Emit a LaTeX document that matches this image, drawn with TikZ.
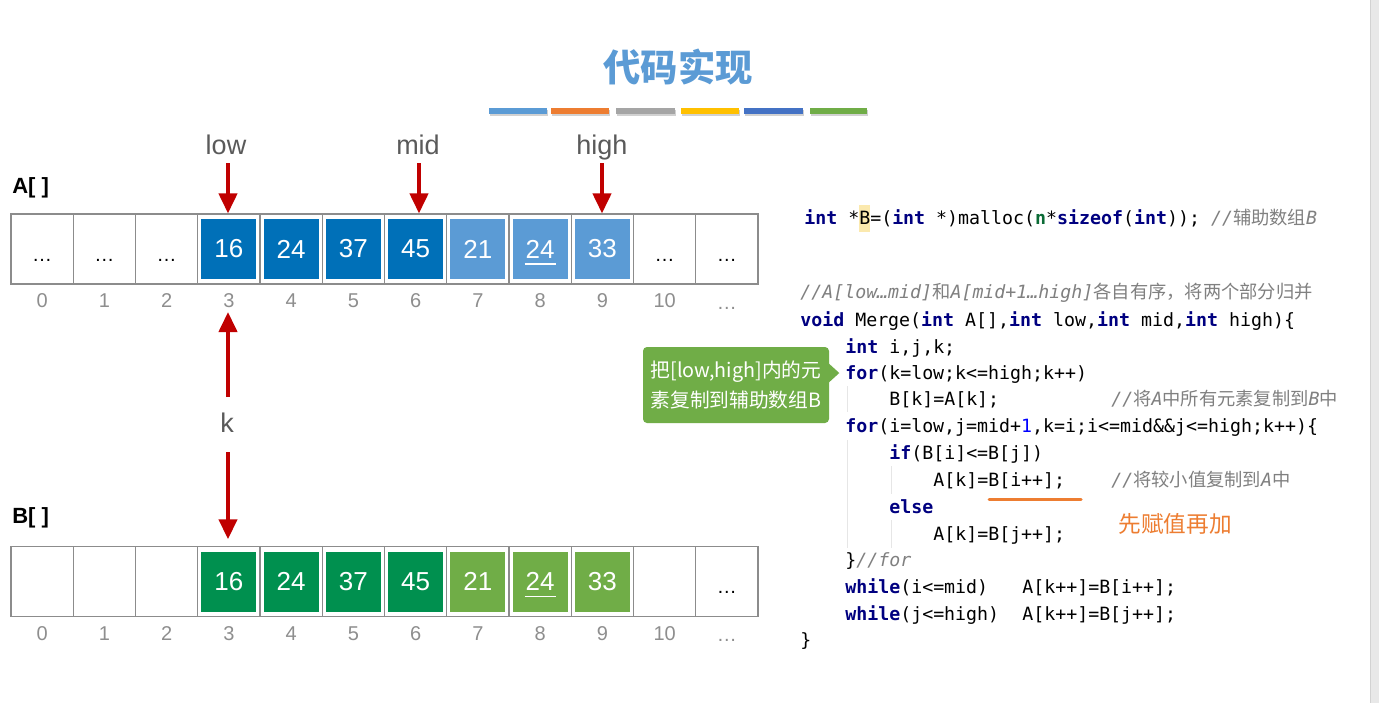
\documentclass[tikz,border=0pt]{standalone}
\usepackage{fontspec}
\setmainfont{Liberation Sans}
\newfontfamily\cjk{Noto Sans CJK SC}
\newfontfamily\codefont{DejaVu Sans Mono}
\usetikzlibrary{arrows.meta}
\definecolor{dblue}{HTML}{0070B8}
\definecolor{lblue}{HTML}{5B9BD5}
\definecolor{dgreen}{HTML}{00904F}
\definecolor{lgreen}{HTML}{70AD47}
\definecolor{arred}{HTML}{C00000}
\definecolor{cellgray}{HTML}{8C8C8C}
\definecolor{idxgray}{HTML}{8E8E8E}
\definecolor{lblgray}{HTML}{5A5A5A}
\definecolor{kwblue}{HTML}{000080}
\definecolor{cmgray}{HTML}{808080}
\definecolor{numblue}{HTML}{0000FF}
\definecolor{ngreen}{HTML}{0B6B36}
\definecolor{hlyellow}{HTML}{FBE9AE}
\definecolor{oranget}{HTML}{ED7D31}
\definecolor{bgray}{HTML}{A5A5A5}
\definecolor{byellow}{HTML}{FFC000}
\definecolor{bblue}{HTML}{4472C4}
\definecolor{guide}{HTML}{E6E6E6}
\newcommand\kw[1]{\textcolor{kwblue}{\bfseries #1}}
\newcommand\cmt[1]{\textcolor{cmgray}{\itshape #1}}
\newcommand\cj[1]{{\cjk\upshape\mdseries #1}}
\begin{document}
\begin{tikzpicture}[x=0.75pt,y=-0.75pt,
  cellbox/.style={draw=cellgray,line width=0.8pt,minimum width=46.69pt,minimum height=52.5pt,inner sep=0pt},
  innerbox/.style={minimum width=41.25pt,minimum height=45pt,inner sep=0pt,text=white,font=\fontsize{19.5pt}{23pt}\selectfont},
  dots/.style={anchor=base,inner sep=0pt,font=\fontsize{15pt}{18pt}\selectfont},
  idx/.style={anchor=base,inner sep=0pt,text=idxgray,font=\fontsize{15pt}{18pt}\selectfont},
  lbl/.style={anchor=base,text=lblgray,inner sep=0pt,font=\fontsize{20.25pt}{24pt}\selectfont},
  arrlbl/.style={anchor=west,inner sep=0pt,font=\bfseries\fontsize{16.5pt}{20pt}\selectfont},
  redarr/.style={draw=arred,line width=3pt,-{Triangle[width=13.5pt,length=15pt]}},
  code/.style={anchor=base west,inner sep=0pt,font=\codefont\fontsize{13.7pt}{16pt}\selectfont},
  guideline/.style={draw=guide,line width=0.75pt}]
\useasboundingbox (0,0) rectangle (1379,703);
\fill[white] (0,0) rectangle (1379,703);
% right band
\fill[gray!18] (1370,0) rectangle (1379,703);
\draw[gray!35,line width=0.6pt] (1370,0) -- (1370,703);

% title and bars
\node[text=lblue,inner sep=0pt,font=\cjk\bfseries\fontsize{28pt}{32pt}\selectfont] (title) at (678,67) {代码实现};
\foreach \xa/\xb/\c in {489/547/lblue,551/609/oranget,616/675/bgray,681/739/byellow,744/803/bblue,810/867/lgreen}{
  \fill[black,opacity=0.18] (\xa+1,109.5) rectangle (\xb+1,116);
  \fill[\c] (\xa,108) rectangle (\xb,114);
}

% array labels
\node[arrlbl] (alabel) at (12,188) {A[ ]};
\node[arrlbl] (blabel) at (12,518) {B[ ]};

% cells
\foreach \i in {0,...,11}{
  \pgfmathsetmacro\cx{11+62.25*(\i+0.5)}
  \node[cellbox] (a\i) at (\cx,249) {};
  \node[cellbox] (b\i) at (\cx,581.5) {};
}
\foreach \i/\v/\c in {3/16/dblue,4/24/dblue,5/37/dblue,6/45/dblue,7/21/lblue,8/24/lblue,9/33/lblue}{
  \node[innerbox,fill=\c] (ain\i) at (a\i) {\v};
}
\foreach \i/\v/\c in {3/16/dgreen,4/24/dgreen,5/37/dgreen,6/45/dgreen,7/21/lgreen,8/24/lgreen,9/33/lgreen}{
  \node[innerbox,fill=\c] (bin\i) at (b\i) {\v};
}
\draw[white,line width=1.1pt] ([shift={(-15.5,15)}]ain8.center) -- ([shift={(15.5,15)}]ain8.center);
\draw[white,line width=1.1pt] ([shift={(-15.5,15)}]bin8.center) -- ([shift={(15.5,15)}]bin8.center);
\foreach \i in {0,1,2,10,11}{
  \node[dots] (adot\i) at (a\i.center |- 0,261) {…};
}
\node[dots] (bdot11) at (b11.center |- 0,593) {…};

% indices
\foreach \i in {0,...,10}{
  \node[idx] (ai\i) at (a\i.center |- 0,307.5) {\i};
  \node[idx] (bi\i) at (b\i.center |- 0,640) {\i};
}
\node[idx] (ai11) at (a11.center |- 0,309) {…};
\node[idx] (bi11) at (b11.center |- 0,641.5) {…};

% pointer labels and arrows
\node[lbl] (low) at (226,154) {low};
\node[lbl] (mid) at (418,154) {mid};
\node[lbl] (high) at (602,154) {high};
\node[lbl] (k) at (227,432) {k};
\coordinate (lowtop) at (228,163);
\coordinate (midtop) at (419,163);
\coordinate (hightop) at (602,163);
\draw[redarr] (lowtop) -- (lowtop |- a3.north);
\draw[redarr] (midtop) -- (midtop |- a6.north);
\draw[redarr] (hightop) -- (hightop |- a9.north);
\coordinate (kup) at (228,397);
\coordinate (kdown) at (228,452);
\draw[redarr] (kup) -- (228,312);
\draw[redarr] (kdown) -- ([yshift=5]kdown |- b3.north);

% callout
\node[fill=lgreen,rounded corners=3pt,minimum width=139.5pt,minimum height=57pt,inner sep=0pt,
  text=white,align=center,font=\cjk\fontsize{14.8pt}{22.5pt}\selectfont] (callout) at (736,385)
  {把[low,high]内的元\\素复制到辅助数组B};
\fill[lgreen] ([shift={(-1,-22)}]callout.east) -- ([shift={(10,-12)}]callout.east) -- ([shift={(-1,-2)}]callout.east) -- cycle;

% code
\fill[hlyellow] (859,205) rectangle (870,232);
\draw[guideline] (847,386) -- (847,412);
\draw[guideline] (847,440) -- (847,548);
\draw[guideline] (891,466) -- (891,494);
\draw[guideline] (891,520) -- (891,548);
\node[code] (c1) at (804,224) {\kw{int} *B=(\kw{int} *)malloc(\textcolor{ngreen}{\bfseries n}*\kw{sizeof}(\kw{int})); \cmt{//\cj{辅助数组}B}};
\node[code] (c2) at (800,298) {\cmt{//A[low…mid]\cj{和}A[mid+1…high]\cj{各自有序，将两个部分归并}}};
\node[code] (c3) at (800,326) {\kw{void} Merge(\kw{int} A[],\kw{int} low,\kw{int} mid,\kw{int} high)\{};
\node[code] (c4) at (845,353) {\kw{int} i,j,k;};
\node[code] (c5) at (845,379) {\kw{for}(k=low;k<=high;k++)};
\node[code] (c6) at (889,405) {B[k]=A[k];};
\node[code] (c6c) at (1111,405) {\cmt{//\cj{将}A\cj{中所有元素复制到}B\cj{中}}};
\node[code] (c7) at (845,432) {\kw{for}(i=low,j=mid+\textcolor{numblue}{1},k=i;i<=mid\&\&j<=high;k++)\{};
\node[code] (c8) at (889,459) {\kw{if}(B[i]<=B[j])};
\node[code] (c9) at (933,486) {A[k]=B[i++];};
\node[code] (c9c) at (1111,486) {\cmt{//\cj{将较小值复制到}A\cj{中}}};
\node[code] (c10) at (889,513) {\kw{else}};
\node[code] (c11) at (933,540) {A[k]=B[j++];};
\node[code] (c12) at (845,566) {\}\cmt{//for}};
\node[code] (c13) at (845,593) {\kw{while}(i<=mid)};
\node[code] (c13b) at (1022,593) {A[k++]=B[i++];};
\node[code] (c14) at (845,620) {\kw{while}(j<=high)};
\node[code] (c14b) at (1022,620) {A[k++]=B[j++];};
\node[code] (c15) at (800,646) {\}};

% annotation
\draw[oranget,line width=2.25pt,line cap=round] (989,499) -- (1081,499);
\node[text=oranget,inner sep=0pt,font=\cjk\fontsize{17pt}{20pt}\selectfont] (note) at (1175,524) {先赋值再加};
\end{tikzpicture}
\end{document}
